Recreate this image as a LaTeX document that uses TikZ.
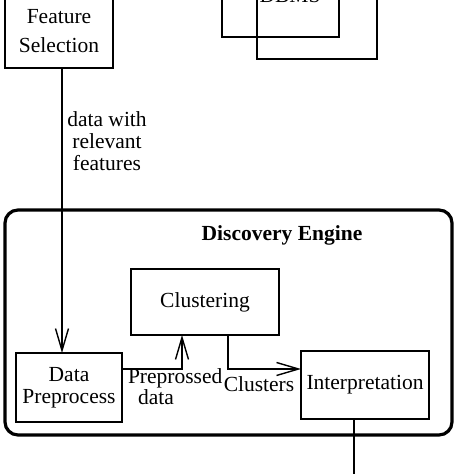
\documentclass[tikz,border=0pt]{standalone}
\usepackage{fontspec}
\setmainfont{Liberation Serif}
\usetikzlibrary{arrows.meta}
\newcommand{\dgfont}{\fontsize{21.5pt}{22pt}\selectfont}

\begin{document}
\begin{tikzpicture}[x=1pt,y=1pt,line join=miter,
  every node/.style={inner sep=0pt,outer sep=0pt,font=\dgfont},
  blockbox/.style={draw,line width=1.6pt,align=center},
  arr/.style={line width=1.4pt,-{Straight Barb[length=22pt,width=13pt]}}]
  \path[use as bounding box] (0,0) rectangle (474,474);  % 474x474 px canvas
  \clip (0,0) rectangle (474,474);
  % ---- upper row: feature selection box and the DBMS stack (both cut off at the top) ----
  \node[blockbox,anchor=south,minimum width=108pt,inner ysep=15pt,
        font=\fontsize{21.5pt}{29pt}\selectfont] (featsel) at (59,406) {Feature\\Selection};
  \draw[line width=1.6pt] (222,437) rectangle (339,500);  % front sheet
  \draw[line width=1.6pt] (257,415) rectangle (377,500);  % back sheet
  \node[anchor=base] (dbms) at (290,471) {DBMS};
  % ---- discovery engine frame ----
  \draw[line width=3.2pt,rounded corners=13pt] (5,39) rectangle (452,264);
  \node[font=\bfseries\dgfont] (engine) at (282,239) {Discovery Engine};
  % ---- blocks inside the engine ----
  \node[blockbox,minimum width=148pt,minimum height=66pt] (clust) at (205,172) {Clustering};
  \node[blockbox,minimum width=106pt,minimum height=69pt] (preproc) at (69,86.5) {Data\\Preprocess};
  \node[blockbox,minimum width=128pt,minimum height=68pt] (interp) at (365,89) {Interpretation};
  % ---- connectors ----
  \draw[arr] ([xshift=3pt]featsel.south) -- ([xshift=3pt]featsel.south |- preproc.north);
  \draw[arr] ([yshift=18.5pt]preproc.east) -| ([xshift=-23pt]clust.south);
  \draw[arr] ([xshift=23pt]clust.south) |- ([yshift=16pt]interp.west);
  \draw[line width=1.4pt] ([xshift=-11pt]interp.south) -- ++(0,-70);
  % ---- connector labels ----
  \node[align=center] (lblfeat) at (107,333) {data with\\relevant\\features};
  \node[anchor=west,align=left,font=\fontsize{21.5pt}{16pt}\selectfont] (lblprep) at (128,87.5)
    {Preprossed\\\hspace*{10pt}data};
  \node (lblclust) at (259,90) {Clusters};
\end{tikzpicture}
\end{document}
